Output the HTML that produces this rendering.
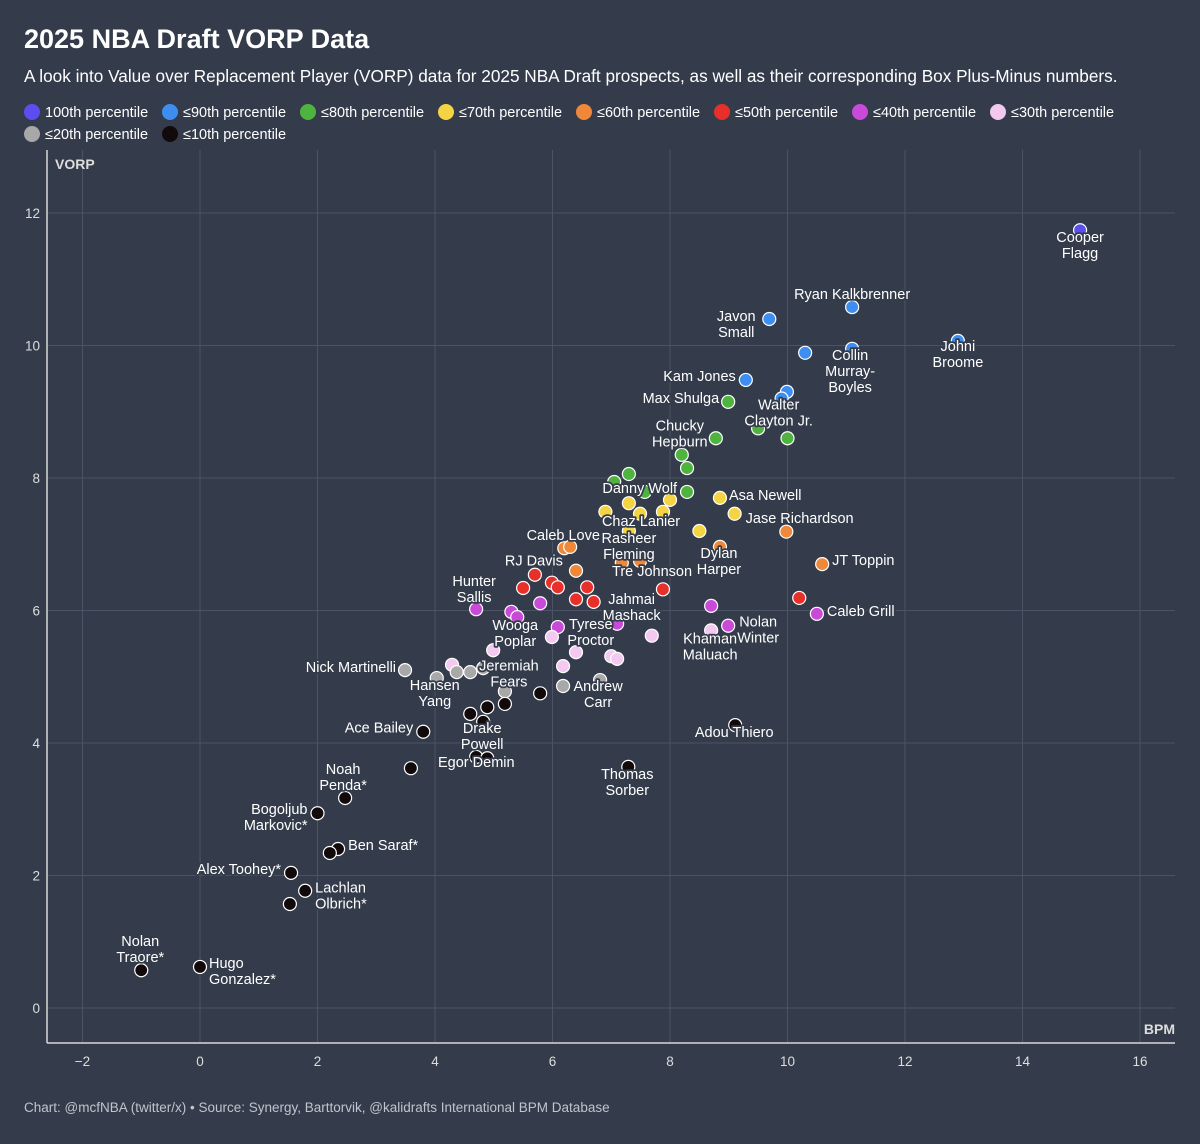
<!DOCTYPE html>
<html><head><meta charset="utf-8"><style>
body{margin:0;background:#343c4b;}
svg{display:block;font-family:"Liberation Sans",Arial,sans-serif;}
.lbl{fill:#fff;font-size:14.5px;stroke:#343c4b;stroke-width:3.5px;paint-order:stroke;stroke-linejoin:round;}
</style></head><body>
<svg id="chart" width="1200" height="1144">
<rect width="1200" height="1144" fill="#343c4b"/>
<text x="24" y="48" font-size="27" font-weight="bold" fill="#fff">2025 NBA Draft VORP Data</text>
<text x="24" y="82" font-size="17.2" fill="#fff">A look into Value over Replacement Player (VORP) data for 2025 NBA Draft prospects, as well as their corresponding Box Plus-Minus numbers.</text>
<g id="legend"></g>
<g id="grid"></g>
<g id="axes"></g>
<g id="pts"></g>
<g id="lbls"></g>
<text x="24" y="1112" font-size="13.5" fill="#c0c4cc">Chart: @mcfNBA (twitter/x) • Source: Synergy, Barttorvik, @kalidrafts International BPM Database</text>
</svg>
<script>
const tierNames=["100th percentile","≤90th percentile","≤80th percentile","≤70th percentile","≤60th percentile","≤50th percentile","≤40th percentile","≤30th percentile","≤20th percentile","≤10th percentile"];
const tierColors=["#5b4df0","#3d8ef0","#4fb43f","#f5d444","#f0883a","#e8302a","#c94ad8","#f3c9f0","#a8a8a8","#120a0a"];
const xTicks=[-2,0,2,4,6,8,10,12,14,16];
const yTicks=[0,2,4,6,8,10,12];
const names=["Cooper Flagg","Ryan Kalkbrenner","Javon Small","Johni Broome","Collin Murray-Boyles","p6","Kam Jones","p8","Walter Clayton Jr.","Max Shulga","p11","p12","Chucky Hepburn","p14","p15","p16","p17","Danny Wolf","p19","p20","p21","Asa Newell","Jase Richardson","p24","Chaz Lanier","p26","p27","Rasheer Fleming","p29","JT Toppin","Dylan Harper","Caleb Love","p33","Tre Johnson","p35","p36","RJ Davis","p38","p39","p40","p41","p42","p43","Jahmai Mashack","p45","Hunter Sallis","p47","Wooga Poplar","p49","Tyrese Proctor","p51","p52","Caleb Grill","Nolan Winter","p55","p56","p57","p58","p59","p60","p61","p62","Khaman Maluach","Andrew Carr","Nick Martinelli","Hansen Yang","p67","p68","p69","p70","Jeremiah Fears","p72","p73","p74","p75","Drake Powell","Ace Bailey","p78","Egor Demin","p80","Thomas Sorber","Adou Thiero","Noah Penda*","Bogoljub Markovic*","Ben Saraf*","p86","Alex Toohey*","Lachlan Olbrich*","p89","Nolan Traore*","Hugo Gonzalez*"];
const bpm=[14.98,11.1,9.69,12.9,11.1,10.3,9.29,9.99,9.9,8.99,9.5,10.0,8.78,8.2,8.29,7.3,8.29,7.57,7.05,7.3,8.0,8.85,9.1,6.9,7.49,7.88,8.5,7.3,9.98,10.59,8.85,6.2,6.3,7.49,7.18,6.4,5.7,5.5,5.99,6.09,6.59,7.88,6.4,6.7,10.2,4.7,5.3,5.4,5.79,6.09,7.1,8.7,10.5,8.99,4.99,5.99,7.69,6.4,7.0,7.1,6.18,4.29,8.7,6.81,3.49,4.03,4.37,4.6,4.82,6.18,5.19,5.79,5.19,4.89,4.6,4.82,3.8,4.7,4.89,3.59,7.29,9.11,2.47,2.0,2.35,2.21,1.55,1.79,1.53,-1.0,0.0];
const vorp=[11.74,10.58,10.4,10.07,9.95,9.89,9.48,9.3,9.2,9.15,8.75,8.6,8.6,8.35,8.15,8.06,7.79,7.79,7.94,7.62,7.67,7.7,7.46,7.49,7.46,7.49,7.2,7.2,7.19,6.7,6.96,6.94,6.96,6.75,6.72,6.6,6.54,6.34,6.42,6.35,6.35,6.32,6.17,6.13,6.19,6.02,5.98,5.9,6.11,5.75,5.8,6.07,5.95,5.77,5.4,5.6,5.62,5.37,5.31,5.27,5.16,5.18,5.7,4.95,5.1,4.98,5.07,5.07,5.13,4.86,4.78,4.75,4.59,4.54,4.44,4.32,4.17,3.79,3.77,3.62,3.64,4.27,3.17,2.94,2.4,2.34,2.04,1.77,1.57,0.57,0.62];
const tier=[0,1,1,1,1,1,1,1,1,2,2,2,2,2,2,2,2,2,2,3,3,3,3,3,3,3,3,3,4,4,4,4,4,4,4,4,5,5,5,5,5,5,5,5,5,6,6,6,6,6,6,6,6,6,7,7,7,7,7,7,7,7,7,8,8,8,8,8,8,8,8,9,9,9,9,9,9,9,9,9,9,9,9,9,9,9,9,9,9,9,9];
// label offsets: [pointIndex, dx, dy, anchor]
const labelOffsets=[[0,0,11,"middle"],[1,0,-9,"middle"],[2,-33,1,"middle"],[3,0,9,"middle"],[4,-2,10,"middle"],[6,-10,0,"end"],[9,-9,0,"end"],[8,-3,10,"middle"],[12,-36,-9,"middle"],[17,-5,0,"middle"],[21,9,1,"start"],[22,11,8,"start"],[24,1,11,"middle"],[27,0,11,"middle"],[31,-1,-9,"middle"],[30,-1,10,"middle"],[33,12,14,"middle"],[29,10,0,"start"],[36,-1,-10,"middle"],[45,-2,-24,"middle"],[43,38,1,"middle"],[52,10,1,"start"],[53,30,0,"middle"],[62,-1,12,"middle"],[47,-2,12,"middle"],[49,33,1,"middle"],[64,-9,1,"end"],[70,4,-22,"middle"],[65,-2,11,"middle"],[63,-2,10,"middle"],[76,-10,0,"end"],[75,-1,10,"middle"],[81,-1,11,"middle"],[78,-11,8,"middle"],[80,-1,11,"middle"],[82,-2,-25,"middle"],[83,-10,0,"end"],[84,10,0,"start"],[86,-10,0,"end"],[87,10,1,"start"],[89,-1,-25,"middle"],[90,9,0,"start"]];
const labelText={"Cooper Flagg":["Cooper","Flagg"],"Javon Small":["Javon","Small"],"Johni Broome":["Johni","Broome"],"Collin Murray-Boyles":["Collin","Murray-","Boyles"],"Walter Clayton Jr.":["Walter","Clayton Jr."],"Chucky Hepburn":["Chucky","Hepburn"],"Rasheer Fleming":["Rasheer","Fleming"],"Dylan Harper":["Dylan","Harper"],"Hunter Sallis":["Hunter","Sallis"],"Jahmai Mashack":["Jahmai","Mashack"],"Nolan Winter":["Nolan","Winter"],"Khaman Maluach":["Khaman","Maluach"],"Wooga Poplar":["Wooga","Poplar"],"Tyrese Proctor":["Tyrese","Proctor"],"Jeremiah Fears":["Jeremiah","Fears"],"Hansen Yang":["Hansen","Yang"],"Andrew Carr":["Andrew","Carr"],"Drake Powell":["Drake","Powell"],"Thomas Sorber":["Thomas","Sorber"],"Noah Penda*":["Noah","Penda*"],"Bogoljub Markovic*":["Bogoljub","Markovic*"],"Lachlan Olbrich*":["Lachlan","Olbrich*"],"Nolan Traore*":["Nolan","Traore*"],"Hugo Gonzalez*":["Hugo","Gonzalez*"]};

const NS="http://www.w3.org/2000/svg";
const X0=200,XS=58.75,Y0=1008,YS=66.25;
const L=47,R=1175,T=150,B=1043;
const sx=v=>X0+v*XS, sy=v=>Y0-v*YS;
function mk(tag,attrs,parent){const e=document.createElementNS(NS,tag);for(const k in attrs)e.setAttribute(k,attrs[k]);parent.appendChild(e);return e;}
const lg=document.getElementById('legend');
tierNames.forEach((n,i)=>{
  const row=i<8?0:1, col=i<8?i:i-8;
  const x=32+col*138, y=112+row*22;
  const c=mk('circle',{cx:x,cy:y,r:8,fill:tierColors[i]},lg);
  
  
  const t=mk('text',{x:x+13,y:y+5,'font-size':14.5,fill:'#fff'},lg);t.textContent=n;
  
  
});
const g=document.getElementById('grid');
xTicks.forEach(v=>{
  const l=mk('line',{x1:sx(v),x2:sx(v),y1:T,y2:B,stroke:'#4b5365','stroke-width':1},g);
  
  
});
yTicks.forEach(v=>{
  const l=mk('line',{x1:L,x2:R,y1:sy(v),y2:sy(v),stroke:'#4b5365','stroke-width':1},g);
  
  
});
const ax=document.getElementById('axes');
let a=mk('line',{x1:L,x2:L,y1:T,y2:B,stroke:'#d8d8d8','stroke-width':1.5},ax);


a=mk('line',{x1:L,x2:R,y1:B,y2:B,stroke:'#d8d8d8','stroke-width':1.5},ax);


xTicks.forEach(v=>{
  const t=mk('text',{x:sx(v),y:B+23,'font-size':13.5,fill:'#ddd','text-anchor':'middle'},ax);
  t.textContent=v<0?'−'+Math.abs(v):v;
  
  
});
yTicks.forEach(v=>{
  const t=mk('text',{x:40,y:sy(v)+5,'font-size':13.5,fill:'#ddd','text-anchor':'end'},ax);
  t.textContent=v;
  
  
});
let t=mk('text',{x:55,y:169,'font-size':14,'font-weight':'bold',fill:'#ddd'},ax);t.textContent='VORP';


t=mk('text',{x:1175,y:1034,'font-size':14,'font-weight':'bold',fill:'#ddd','text-anchor':'end'},ax);t.textContent='BPM';


const pg=document.getElementById('pts');
bpm.forEach((v,i)=>{
  const c=mk('circle',{cx:sx(v),cy:sy(vorp[i]),r:6.5,fill:tierColors[tier[i]],stroke:'#fff','stroke-width':1.2},pg);
  
  
});
const lb=document.getElementById('lbls');
labelOffsets.forEach(o=>{
  const i=o[0],n=names[i];
  const lines=labelText[n]||[n];
  const x=sx(bpm[i])+o[1], y=sy(vorp[i])+o[2]+1;
  const tx=mk('text',{x:x,y:y,'text-anchor':o[3],class:'lbl'},lb);
  
  
  lines.forEach((s,k)=>{const ts=mk('tspan',{x:x,dy:k?16:0},tx);ts.textContent=s;});
});
</script>
</body></html>
